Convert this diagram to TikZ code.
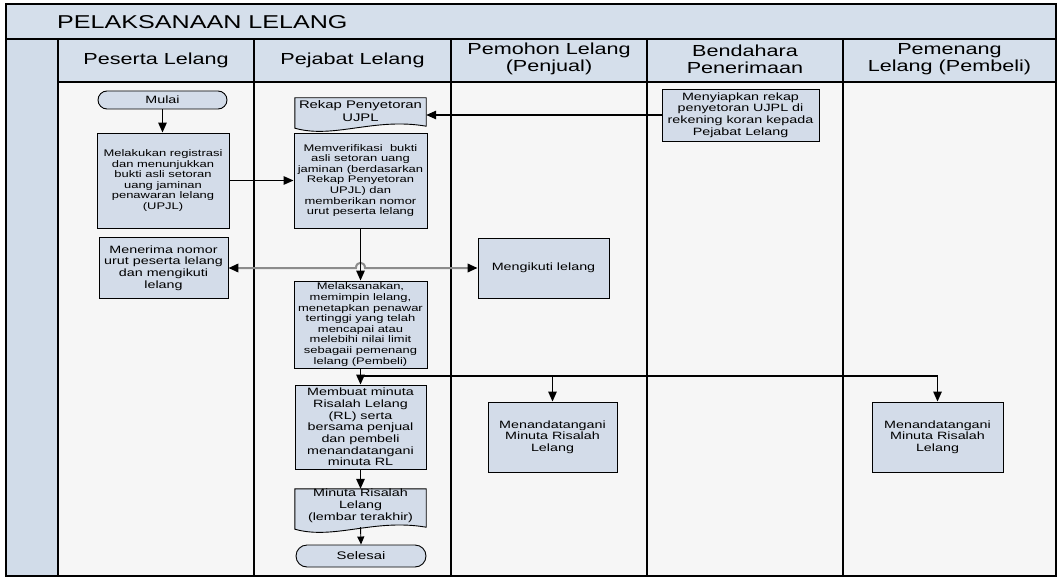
\documentclass[tikz,border=0pt]{standalone}
\usepackage{fontspec}
\setmainfont{Liberation Sans}[FakeStretch=1.35]
\usetikzlibrary{arrows.meta,calc}
\definecolor{bandblue}{HTML}{D5DFEB}
\definecolor{stripblue}{HTML}{D1DCE9}
\definecolor{bodygray}{HTML}{F6F6F6}
\definecolor{boxblue}{HTML}{D3DCE9}
\definecolor{hopgray}{HTML}{8C8C8C}
\begin{document}
\begin{tikzpicture}[x=1pt,y=-1pt,
  box/.style={draw=black,line width=0.9pt,fill=boxblue,align=center,inner sep=0pt,font=\fontsize{10.6}{11.7}\selectfont},
  smallbox/.style={box,font=\fontsize{9.6}{10.6}\selectfont},
  term/.style={box,rounded corners=9pt},
  docshape/.style={draw=black,line width=0.9pt,fill=boxblue},
  docnode/.style={inner sep=0pt},
  doctext/.style={align=center,inner sep=0pt,font=\fontsize{10.6}{12}\selectfont},
  arr/.style={line width=1.3pt,-{Triangle[length=10pt,width=8.5pt]}},
  thinarr/.style={line width=0.9pt,-{Triangle[length=8pt,width=7pt]}},
  lane/.style={line width=1.1pt},
  hdr/.style={font=\fontsize{16}{17}\selectfont,align=center,inner sep=0pt},
]
\useasboundingbox (0,0) rectangle (1064,583);
\fill[white] (0,0) rectangle (1064,583);
\fill[bodygray] (6,4) rectangle (1056,576);
\fill[bandblue] (6,4) rectangle (1056,82);
\fill[stripblue] (6,39) rectangle (58,576);
\draw[line width=1.6pt] (6,39) -- (1056,39);
\draw[line width=1.4pt] (58,82) -- (1056,82);
\foreach \x in {58,254,451,647,843} \draw[lane] (\x,39) -- (\x,576);
\draw[line width=1.6pt] (6,4) rectangle (1056,576);

% title and headers
\node[anchor=west,inner sep=0pt,font=\fontsize{18.6}{20}\selectfont] (title) at (57,22) {PELAKSANAAN LELANG};
\node[hdr] (h1) at (156,60) {Peserta Lelang};
\node[hdr] (h2) at (352.5,60) {Pejabat Lelang};
\node[hdr] (h3) at (549,59) {Pemohon Lelang\\(Penjual)};
\node[hdr] (h4) at (745,59) {Bendahara\\Penerimaan};
\node[hdr] (h5) at (949.5,59) {Pemenang\\Lelang (Pembeli)};

% documents (shapes)
\node[docnode,minimum width=131pt,minimum height=28pt] (rekap) at (360.5,112) {};
\path[docshape] (rekap.north west) -- (rekap.north east) -- (rekap.south east)
  .. controls ($(rekap.south east)+(-52,-9)$) and ($(rekap.south west)+(39,13)$) .. ($(rekap.south west)+(0,2)$) -- cycle;
\node[doctext,font=\fontsize{11}{13}\selectfont] (rekaptxt) at (360.5,111) {Rekap Penyetoran\\UJPL};

\node[docnode,minimum width=131pt,minimum height=38pt] (minuta) at (360.5,508) {};
\path[docshape] (minuta.north west) -- (minuta.north east) -- (minuta.south east)
  .. controls ($(minuta.south east)+(-52,-9)$) and ($(minuta.south west)+(39,13)$) .. ($(minuta.south west)+(0,2)$) -- cycle;
\node[doctext] (minutatxt) at (360.5,506) {Minuta Risalah\\Lelang\\(lembar terakhir)};

% process boxes
\node[term,minimum width=129pt,minimum height=18pt] (mulai) at (162.5,100) {Mulai};
\node[smallbox,minimum width=132pt,minimum height=95pt] (reg) at (163,180.5)
  {Melakukan registrasi\\dan menunjukkan\\bukti asli setoran\\uang jaminan\\penawaran lelang\\(UPJL)};
\node[smallbox,minimum width=133pt,minimum height=95pt] (verif) at (360.5,180.5)
  {Memverifikasi\ \ bukti\\asli setoran uang\\jaminan (berdasarkan\\Rekap Penyetoran\\UPJL) dan\\memberikan nomor\\urut peserta lelang};
\node[box,minimum width=157pt,minimum height=52pt] (bend) at (740.5,115)
  {Menyiapkan rekap\\penyetoran UJPL di\\rekening koran kepada\\Pejabat Lelang};
\node[box,minimum width=129pt,minimum height=61pt] (terima) at (163.5,268)
  {Menerima nomor\\urut peserta lelang\\dan mengikuti\\lelang};
\node[box,minimum width=131pt,minimum height=60pt] (ikut) at (543.5,268) {Mengikuti lelang};
\node[smallbox,minimum width=133pt,minimum height=87pt] (laksana) at (360.5,324.5)
  {Melaksanakan,\\memimpin lelang,\\menetapkan penawar\\tertinggi yang telah\\mencapai atau\\melebihi nilai limit\\sebagaii pemenang\\lelang (Pembeli)};
\node[box,minimum width=131pt,minimum height=84pt] (buat) at (360.5,427)
  {Membuat minuta\\Risalah Lelang\\(RL) serta\\bersama penjual\\dan pembeli\\menandatangani\\minuta RL};
\node[box,minimum width=129pt,minimum height=70pt] (signa) at (552.5,437)
  {Menandatangani\\Minuta Risalah\\Lelang};
\node[box,minimum width=131pt,minimum height=70pt] (signb) at (937.5,437)
  {Menandatangani\\Minuta Risalah\\Lelang};
\node[term,minimum width=130pt,minimum height=22pt,rounded corners=11pt,font=\fontsize{11}{12}\selectfont] (selesai) at (361,556) {Selesai};

% connectors
\draw[arr] (mulai.south) -- (mulai.south |- reg.north);
\draw[arr] (reg.east) -- (verif.west);
\draw[arr] (bend.west) -- (bend.west -| rekap.east);
\draw[line width=2pt,hopgray,{Triangle[length=10pt,width=8.5pt,color=black]}-{Triangle[length=10pt,width=8.5pt,color=black]}]
  (terima.east) -- (356,268) .. controls (356,261) and (365,261) .. (365,268) -- (ikut.west);
\draw[arr] (verif.south) -- (laksana.north);
\draw[arr] (laksana.south) -- (buat.north);
\coordinate (split) at (360.5,376);
\draw[line width=1.3pt] (split) -- (split -| signa.north);
\draw[arr] (split -| signa.north) -- (signa.north);
\draw[arr] (split) -| (signb.north);
\draw[arr] (buat.south) -- (minuta.north);
\draw[thinarr] (minuta.south) -- (selesai.north);
\end{tikzpicture}
\end{document}
